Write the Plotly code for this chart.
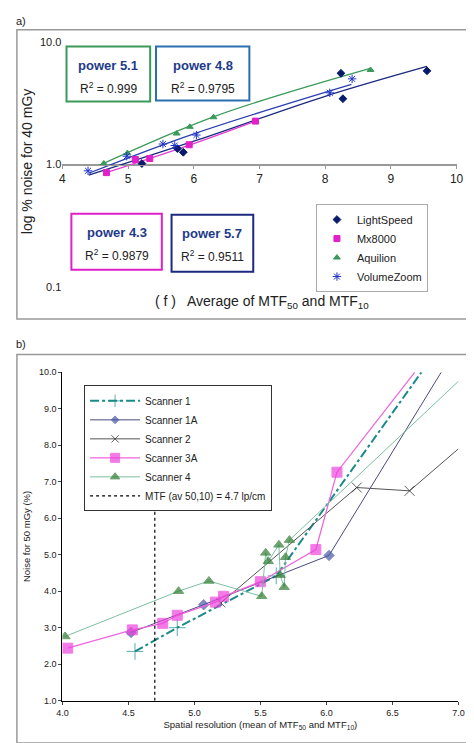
import plotly.graph_objects as go

# ---- panel a) data ----
ls_x = [5.21, 5.75, 5.84, 8.24, 8.27, 9.55]
ls_y = [1.02, 1.35, 1.26, 5.54, 3.44, 5.8]
mx_x = [4.67, 5.11, 5.33, 5.93, 6.94]
mx_y = [0.86, 1.10, 1.12, 1.45, 2.26]
aq_x = [4.63, 4.99, 5.74, 5.94, 6.30, 8.69]
aq_y = [1.02, 1.24, 1.79, 2.03, 2.43, 5.89]
vz_x = [4.39, 4.98, 5.53, 5.71, 6.04, 8.07, 8.41]
vz_y = [0.89, 1.17, 1.47, 1.43, 1.74, 3.84, 4.99]
# fitted trend lines
tr_aq_x, tr_aq_y = [4.55, 6.3, 8.7], [0.98, 2.45, 6.1]
tr_vz_x, tr_vz_y = [4.4, 6.0, 8.4], [0.85, 1.78, 4.5]
tr_ls_x, tr_ls_y = [4.4, 6.0, 8.0, 9.55], [0.82, 1.55, 3.6, 6.3]
tr_mx_x, tr_mx_y = [4.67, 5.9, 6.94], [0.86, 1.42, 2.26]

# ---- panel b) data ----
s1_x = [4.55, 4.87, 5.62, 6.72]
s1_y = [2.35, 3.0, 4.42, 10.0]
s1a_x = [4.52, 5.07, 6.02, 6.87]
s1a_y = [2.87, 3.63, 4.98, 10.0]
s2_x = [5.20, 6.23, 6.63, 7.0]
s2_y = [3.68, 6.84, 6.75, 7.9]
s3a_x = [4.04, 4.53, 4.76, 4.87, 5.16, 5.22, 5.50, 5.92, 6.08, 6.67]
s3a_y = [2.44, 2.94, 3.12, 3.34, 3.70, 3.86, 4.26, 5.14, 7.26, 10.0]
s4_x = [4.02, 4.88, 5.11, 5.51, 5.54, 5.56, 5.64, 5.65, 5.68, 5.69, 5.72, 7.0]
s4_y = [2.76, 4.0, 4.28, 3.86, 5.05, 4.82, 5.27, 4.44, 4.11, 4.93, 5.40, 9.75]
mtf_x = [4.7, 4.7]
mtf_y = [1.0, 6.9]

FONT = "Liberation Sans, Arial"
fig = go.Figure()

def sc(x, y, color, symbol, name, size=6, xa="x", ya="y", legend=True, mode="markers", line=None, sizes=None):
    fig.add_trace(go.Scatter(
        x=x, y=y, mode=mode, name=name, xaxis=xa, yaxis=ya, showlegend=legend,
        marker=dict(color=color, symbol=symbol, size=sizes if sizes else size,
                    line=dict(width=1, color=color)),
        line=line, legend="legend" if ya == "y" else "legend2"))

# panel a
for tx, ty, c in [(tr_aq_x, tr_aq_y, "#3a9a5a"), (tr_vz_x, tr_vz_y, "#2b3fb0"),
                  (tr_ls_x, tr_ls_y, "#1c2a80"), (tr_mx_x, tr_mx_y, "#e040d0")]:
    fig.add_trace(go.Scatter(x=tx, y=ty, mode="lines", line=dict(color=c, width=1.3, shape="spline"),
                             showlegend=False, xaxis="x", yaxis="y"))
sc(ls_x, ls_y, "#0a1a6a", "diamond", "LightSpeed")
sc(mx_x, mx_y, "#e020c8", "square", "Mx8000")
sc(aq_x, aq_y, "#3a9a5a", "triangle-up", "Aquilion")
sc(vz_x, vz_y, "#2233cc", "asterisk", "VolumeZoom", size=7)

# panel b
sc(s1_x, s1_y, "#1a8a8a", "cross-thin", "Scanner 1", xa="x2", ya="y2", mode="lines+markers",
   line=dict(color="#1a8a8a", width=2, dash="dashdot"), sizes=[12, 12, 12, 0])
sc(s1a_x, s1a_y, "#4a5aa8", "diamond", "Scanner 1A", xa="x2", ya="y2", mode="lines+markers",
   line=dict(color="#4a4a80", width=1), sizes=[8, 8, 8, 0])
sc(s2_x, s2_y, "#222222", "x-thin", "Scanner 2", xa="x2", ya="y2", mode="lines+markers",
   line=dict(color="#555555", width=1), sizes=[9, 10, 10, 0])
sc(s3a_x, s3a_y, "#ee44dd", "square", "Scanner 3A", xa="x2", ya="y2", mode="lines+markers",
   line=dict(color="#ee66dd", width=1.3), sizes=[10] * 9 + [0])
sc(s4_x, s4_y, "#2e7d32", "triangle-up", "Scanner 4", xa="x2", ya="y2", mode="lines+markers",
   line=dict(color="#7cbfa0", width=1), sizes=[9] * 11 + [0])
fig.add_trace(go.Scatter(x=mtf_x, y=mtf_y, mode="lines", name="MTF (av 50,10) = 4.7 lp/cm",
                         line=dict(color="black", width=1.2, dash="dot"),
                         xaxis="x2", yaxis="y2", legend="legend2"))

fig.update_layout(
    width=474, height=743, margin=dict(l=0, r=0, t=0, b=0),
    paper_bgcolor="white", plot_bgcolor="white",
    font=dict(family=FONT, color="#222"),
    xaxis=dict(domain=[0.105, 0.96], range=[4, 10], dtick=1, anchor="free", position=0.794,
               tickfont=dict(size=12), showgrid=False, showline=True, linecolor="#999",
               ticks="outside", ticklen=3, tickcolor="#999"),
    yaxis=dict(domain=[0.626, 0.962], type="log", range=[-1, 1], tickvals=[0.1, 1, 10],
               ticktext=["0.1", "1.0", "10.0"], tickfont=dict(size=11), showgrid=True,
               gridcolor="#999", showline=False, anchor="x"),
    xaxis2=dict(domain=[0.105, 0.964], range=[4, 7], dtick=0.5, tickformat=".1f",
                tickfont=dict(size=9), showgrid=False, anchor="y2",
                showline=True, linecolor="black", ticks="outside", ticklen=3,
                title=dict(text="Spatial resolution (mean of MTF<sub>50</sub> and MTF<sub>10</sub>)",
                           font=dict(size=9.5), standoff=4)),
    yaxis2=dict(domain=[0.0606, 0.51], range=[1, 10], dtick=1, tickformat=".1f",
                tickfont=dict(size=9), showgrid=False, anchor="x2",
                showline=True, linecolor="black", ticks="outside", ticklen=3,
                title=dict(text="Noise for 50 mGy (%)", font=dict(size=9.5), standoff=6)),
    legend=dict(x=0.655, y=0.74, xanchor="left", yanchor="top", bgcolor="white",
                bordercolor="#aaa", borderwidth=1, font=dict(size=11), tracegroupgap=0,
                itemwidth=30),
    legend2=dict(x=0.152, y=0.492, xanchor="left", yanchor="top", bgcolor="white",
                 bordercolor="#333", borderwidth=1, font=dict(size=10), itemwidth=50),
)

shapes = [
    dict(type="rect", xref="paper", yref="paper", x0=3/474, x1=471/474, y0=1-310/743, y1=1-16/743,
         line=dict(color="#999", width=1.5)),
    dict(type="rect", xref="paper", yref="paper", x0=3/474, x1=471/474, y0=1-741/743, y1=1-346/743,
         line=dict(color="#999", width=1.5)),
]
boxes = [(54, 140, 33, 89, "#3a9a5a", "power 5.1", "0.999"),
         (146, 242, 33, 88, "#2b6fb0", "power 4.8", "0.9795"),
         (59, 152, 203, 260, "#e020c8", "power 4.3", "0.9879"),
         (162, 246, 204, 262, "#1c2a80", "power 5.7", "0.9511")]
ann = []
for x0, x1, y0, y1, c, p, r in boxes:
    shapes.append(dict(type="rect", xref="paper", yref="paper", x0=x0/474, x1=x1/474,
                       y0=1-y1/743, y1=1-y0/743, line=dict(color=c, width=2)))
    cx = (x0 + x1) / 2 / 474
    ann.append(dict(x=cx, y=1-(y0+19)/743, text="<b>" + p + "</b>", font=dict(size=13, color="#1e3a8a")))
    ann.append(dict(x=cx, y=1-(y0+42)/743, text="R<sup>2</sup> = " + r, font=dict(size=12, color="#222")))
ann += [
    dict(x=13/474, y=1-150/743, text="log % noise for 40 mGy", textangle=-90, font=dict(size=14)),
    dict(x=255/474, y=1-293/743, text="( f )   Average of MTF<sub>50</sub> and MTF<sub>10</sub>", font=dict(size=14)),
    dict(x=0.0, y=1-7/743, xanchor="left", text="a)", font=dict(size=11)),
    dict(x=0.0, y=1-335/743, xanchor="left", text="b)", font=dict(size=11)),
]
for a in ann:
    a.update(xref="paper", yref="paper", showarrow=False)
    a.setdefault("xanchor", "center")
    a["yanchor"] = "middle"
fig.update_layout(shapes=shapes, annotations=ann)

fig.write_html("out.html")
